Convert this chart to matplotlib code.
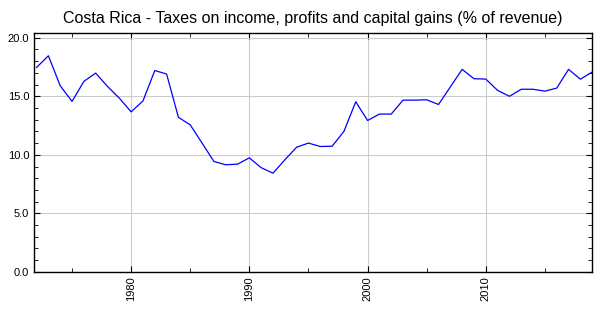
import matplotlib
matplotlib.use("Agg")
import matplotlib.pyplot as plt
from matplotlib.ticker import MultipleLocator, FormatStrFormatter

plt.rcParams['font.family'] = ['Liberation Sans', 'DejaVu Sans']

# Taxes on income, profits and capital gains (% of revenue), Costa Rica
years = list(range(1972, 2020))
values = [17.46, 18.46, 15.9, 14.56, 16.27, 16.98, 15.84, 14.84, 13.67, 14.6,
          17.2, 16.9, 13.2, 12.56, 11.0, 9.43, 9.15, 9.2, 9.74, 8.9,
          8.43, 9.57, 10.65, 11.0, 10.71, 10.73, 12.0, 14.53, 12.93, 13.48,
          13.48, 14.67, 14.67, 14.7, 14.3, 15.8, 17.3, 16.5, 16.47, 15.5,
          15.0, 15.6, 15.6, 15.44, 15.7, 17.3, 16.46, 17.07]

fig = plt.figure(figsize=(6, 3.15), dpi=100)
ax = fig.add_axes([0.057, 0.137, 0.930, 0.758])

ax.plot(years, values, color="#0000ff", linewidth=0.9)

ax.set_xlim(1971.8, 2019.0)
ax.set_ylim(0, 20.4)
ax.set_title("Costa Rica - Taxes on income, profits and capital gains (% of revenue)",
             fontsize=11.5, pad=7)

ax.xaxis.set_major_locator(MultipleLocator(10))
ax.xaxis.set_minor_locator(MultipleLocator(5))
ax.yaxis.set_major_locator(MultipleLocator(5))
ax.yaxis.set_minor_locator(MultipleLocator(1))
ax.yaxis.set_major_formatter(FormatStrFormatter("%.1f"))

ax.grid(True, which="major", color="#cccccc", linewidth=0.8)
ax.tick_params(which="both", direction="in", top=True, right=True, labelsize=8)
ax.tick_params(which="major", length=4)
ax.tick_params(which="minor", length=3)
for lab in ax.get_xticklabels():
    lab.set_rotation(90)
for s in ax.spines.values():
    s.set_linewidth(1.0)

fig.savefig("out.png", dpi=100)
